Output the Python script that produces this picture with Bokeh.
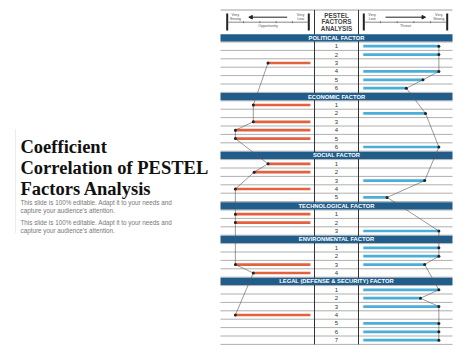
import numpy as np
from bokeh.plotting import figure
from bokeh.models import Range1d, Arrow, NormalHead
from bokeh.core.properties import value
from bokeh.embed import file_html
from bokeh.resources import INLINE

# ---------------- data ----------------
sections = ["POLITICAL FACTOR", "ECONOMIC FACTOR", "SOCIAL FACTOR",
            "TECHNOLOGICAL FACTOR", "ENVIRONMENTAL FACTOR",
            "LEGAL (DEFENSE & SECURITY) FACTOR"]
row_counts = [6, 6, 5, 3, 4, 7]
nan = float("nan")
# opportunity strength (0 = very low, 5 = very strong), per row
opportunity = [
    [nan, nan, 2.5, nan, nan, nan],
    [3.4, nan, 3.4, 4.5, 4.5, nan],
    [2.5, 3.35, nan, 4.5, nan],
    [4.5, 4.5, nan],
    [nan, nan, 4.5, 3.4],
    [nan, nan, nan, 4.5, nan, nan, nan],
]
# threat strength (0 = very low, 5 = very strong), per row
threat = [
    [4.5, 4.5, nan, 4.5, 3.55, 2.55],
    [nan, 3.7, nan, nan, nan, 4.5],
    [nan, nan, 3.65, nan, 1.4],
    [nan, nan, 4.5],
    [4.5, 4.5, 3.65, nan],
    [4.5, 3.4, 4.5, nan, 4.5, 4.5, 4.5],
]
scale_ticks = [0, 1, 2, 3, 4, 5]

title_lines = ["Coefficient", "Correlation of PESTEL", "Factors Analysis"]
body_lines = ["This slide is 100% editable. Adapt it to your needs and",
              "capture your audience's  attention."]

# ---------------- styles ----------------
RED = "#e2613f"
BLUE = "#4aaed8"
BAND = "#215d8b"
GRID = "#9a9a9a"
DARK = "#333333"
SERIF = value("Liberation Serif")
SANS = value("Liberation Sans")

W, H = 458, 348
X0, Y0 = 0, 0
p = figure(width=W, height=H, x_range=Range1d(X0, X0 + W), y_range=Range1d(Y0 + H, Y0),
           output_backend="svg", toolbar_location=None, min_border=0,
           x_axis_location=None, y_axis_location=None)
p.grid.visible = False
p.outline_line_color = None
p.background_fill_color = "white"

# table geometry (page px)
TL, TR = 220, 452
VL1, VL2 = 314, 358
MID = 336
SLOT0, PITCH = 37.3, 8.4

# slot scale: slot index -> vertical position
p.extra_y_ranges = {"slot": Range1d(start=(Y0 + H - SLOT0) / PITCH, end=(Y0 - SLOT0) / PITCH)}
# opportunity scale: 5 at left (very strong), 0 at right (very low)
O5, O0 = 226.7, 308.3
ou = (O0 - O5) / 5
# threat scale: 0 at left (very low), 5 at right (very strong)
T0, T5 = 363.3, 446.7
tu = (T5 - T0) / 5
p.extra_x_ranges = {
    "opp": Range1d(start=(O0 - X0) / ou, end=(O0 - X0 - W) / ou),
    "thr": Range1d(start=(X0 - T0) / tu, end=(X0 + W - T0) / tu),
}

# compute slots
band_slots, row_slots, row_labels, opp_vals, thr_vals = [], [], [], [], []
s = 0
for name, n, ov, tv in zip(sections, row_counts, opportunity, threat):
    band_slots.append(s)
    for i in range(n):
        row_slots.append(s + 1 + i)
        row_labels.append(str(i + 1))
        opp_vals.append(ov[i])
        thr_vals.append(tv[i])
    s += n + 1
n_slots = s
row_slots = np.array(row_slots, dtype=float)
opp_vals = np.array(opp_vals, dtype=float)
thr_vals = np.array(thr_vals, dtype=float)

# grid lines at slot boundaries
bounds = [k + 0.5 for k in range(n_slots)]
p.segment(x0=TL, x1=TR, y0=bounds, y1=bounds, y_range_name="slot",
          line_color=GRID, line_width=0.8)
bottom = SLOT0 + PITCH * (n_slots - 0.5)
# top line and vertical dividers
p.segment(x0=[TL], x1=[TR], y0=[9.5], y1=[9.5], line_color="#888888", line_width=0.8)
p.segment(x0=[VL1, VL2], x1=[VL1, VL2], y0=[9.5, 9.5], y1=[bottom, bottom],
          line_color=DARK, line_width=1)

# bands
p.rect(x=[(TL + TR) / 2] * len(band_slots), y=band_slots, width=TR - TL, height=0.87,
       y_range_name="slot", fill_color=BAND, line_color=None)
p.text(x=[MID] * len(band_slots), y=band_slots, text=sections, y_range_name="slot",
       text_font=SANS, text_font_style="bold", text_font_size="5.8px",
       text_color="white", text_align="center", text_baseline="middle")

# row numbers
p.text(x=[MID] * len(row_slots), y=row_slots, text=row_labels, y_range_name="slot",
       text_font=SANS, text_font_size="6px", text_color=DARK,
       text_align="center", text_baseline="middle")

# opportunity bars
om = ~np.isnan(opp_vals)
p.hbar(y=row_slots[om], left=-0.1, right=opp_vals[om], height=0.32,
       x_range_name="opp", y_range_name="slot", fill_color=RED, line_color=None)
p.line(opp_vals[om], row_slots[om], x_range_name="opp", y_range_name="slot",
       line_color="#555555", line_width=0.6)
p.scatter(opp_vals[om], row_slots[om], x_range_name="opp", y_range_name="slot",
          size=3, fill_color="#222222", line_color=None)

# threat bars
tm = ~np.isnan(thr_vals)
p.hbar(y=row_slots[tm], left=-0.03, right=thr_vals[tm], height=0.32,
       x_range_name="thr", y_range_name="slot", fill_color=BLUE, line_color=None)
p.line(thr_vals[tm], row_slots[tm], x_range_name="thr", y_range_name="slot",
       line_color="#555555", line_width=0.6)
p.scatter(thr_vals[tm], row_slots[tm], x_range_name="thr", y_range_name="slot",
          size=3, fill_color="#222222", line_color=None)

# header: PESTEL FACTORS ANALYSIS
p.text(x=[MID] * 3, y=[14.5, 21, 27.5], text=["PESTEL", "FACTORS", "ANALYSIS"],
       text_font=SANS, text_font_style="bold", text_font_size="6.3px",
       text_color="#444444", text_align="center", text_baseline="middle")

# header scales
for rng, lo_lbl, hi_lbl, name in [
        ("opp", ["Very", "Low"], ["Very", "Strong"], "Opportunity"),
        ("thr", ["Very", "Low"], ["Very", "Strong"], "Threat")]:
    ends = [scale_ticks[0], scale_ticks[-1]]
    p.segment(x0=ends, x1=ends, y0=[13, 13], y1=[30, 30], x_range_name=rng,
              line_color="#222222", line_width=2)
    p.segment(x0=[ends[0]], x1=[ends[1]], y0=[21.7], y1=[21.7], x_range_name=rng,
              line_color="#555555", line_width=0.7)
    mids = scale_ticks[1:-1]
    p.segment(x0=mids, x1=mids, y0=[20.7] * len(mids), y1=[22.7] * len(mids),
              x_range_name=rng, line_color="#555555", line_width=0.7)
    p.text(x=[0.5, 0.5], y=[14.3, 18.3], text=lo_lbl, x_range_name=rng,
           text_font=SANS, text_font_size="3.8px", text_color="#555555",
           text_align="center", text_baseline="middle")
    p.text(x=[4.5, 4.5], y=[14.3, 18.3], text=hi_lbl, x_range_name=rng,
           text_font=SANS, text_font_size="3.8px", text_color="#555555",
           text_align="center", text_baseline="middle")
    p.text(x=[2.5], y=[25.3], text=[name], x_range_name=rng,
           text_font=SANS, text_font_size="3.8px", text_color="#555555",
           text_align="center", text_baseline="middle")

p.add_layout(Arrow(end=NormalHead(size=3.5, fill_color="#222222", line_color="#222222"),
                   x_start=286.7, y_start=16.7, x_end=248.3, y_end=16.7,
                   line_color="#222222", line_width=1))
p.add_layout(Arrow(end=NormalHead(size=3.5, fill_color="#222222", line_color="#222222"),
                   x_start=385, y_start=16.7, x_end=425, y_end=16.7,
                   line_color="#222222", line_width=1))

# left decoration dotted line
p.segment(x0=[15], x1=[15], y0=[129], y1=[232], line_color="#cfcfcf",
          line_width=0.8, line_dash="1 1")

# title
p.text(x=[20] * 3, y=[146, 167, 188], text=title_lines, text_font=SERIF,
       text_font_style="bold", text_font_size="18.5px", text_color="#111111",
       text_align="left", text_baseline="alphabetic")
# body text (two identical paragraphs)
p.text(x=[20] * 4, y=[202, 209.7, 222, 229.7], text=body_lines + body_lines,
       text_font=SANS, text_font_size="6.3px", text_color="#777777",
       text_align="left", text_baseline="alphabetic")

open("out.html", "w").write(file_html(p, INLINE))
